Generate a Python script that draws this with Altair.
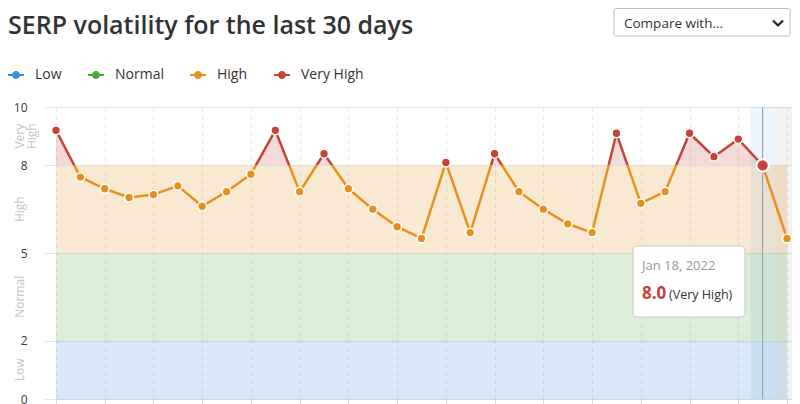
import altair as alt
import pandas as pd

# ---------------- data ----------------
values = [9.2, 7.6, 7.2, 6.9, 7.0, 7.3, 6.6, 7.1, 7.7, 9.2, 7.1, 8.4, 7.2, 6.5, 5.9, 5.5,
          8.1, 5.7, 8.4, 7.1, 6.5, 6.0, 5.7, 9.1, 6.7, 7.1, 9.1, 8.3, 8.9, 8.0, 5.5]
start_date = "2021-12-20"
levels = ["Low", "Normal", "High", "Very High"]
level_lo = [0, 2, 5, 8]
level_hi = [2, 5, 8, 10]
level_colors = ["#3b8ed0", "#4ea93d", "#e6911f", "#c4423a"]
band_labels = ["Low", "Normal", "High", "Very\nHigh"]
y_ticks = [0, 2, 5, 8, 10]
hover_index = 29
title_text = "SERP volatility for the last 30 days"
compare_text = "Compare with…"

FONT = "Open Sans"
W, H = 736, 292
STEP = 24.367
X_MAX = W / STEP

n = len(values)
dates = pd.date_range(start_date, periods=n).strftime("%b %d, %Y")


def level_of(v):
    for name, lo in zip(levels[::-1], level_lo[::-1]):
        if v >= lo:
            return name
    return levels[0]


df = pd.DataFrame({
    "idx": list(range(n)),
    "value": values,
    "date": list(dates),
    "level": [level_of(v) for v in values],
})

bands = pd.DataFrame({
    "level": levels[:3],
    "lo": level_lo[:3],
    "hi": level_hi[:3],
    "x0": [0] * 3,
    "x1": [n - 1] * 3,
})
band_text = pd.DataFrame({
    "label": band_labels,
    "mid": [(a + b) / 2 for a, b in zip(level_lo, level_hi)],
})

hv = df[df.idx == hover_index].copy()
hv["x0"] = hv["idx"] - 0.5
hv["x1"] = hv["idx"] + 0.5
hv["xend"] = X_MAX
hv["vtxt"] = hv["value"].map(lambda v: f"{v:.1f}")
hv["ltxt"] = hv["level"].map(lambda s: f"({s})")

vmax, vmin = max(values), min(values)
thr = level_lo[3]
p = (vmax - thr) / (vmax - vmin)

xscale = alt.Scale(domain=[0, X_MAX], nice=False, zero=False)
yscale = alt.Scale(domain=[0, 10], nice=False, zero=False)
cscale = alt.Scale(domain=levels, range=level_colors)

x_axis = alt.Axis(values=list(range(0, n, 2)), labels=False, tickSize=5, tickColor="#cbd7e4",
                  domainColor="#cbd7e4", grid=True, gridDash=[4, 4], gridColor="#e4e4e4",
                  title="")
y_axis = alt.Axis(values=y_ticks, tickSize=12, tickColor="#e6e6e6", domain=False, grid=True,
                  gridColor="#e6e6e6", labelFontSize=12, labelColor="#3a3a3a", labelFont=FONT,
                  labelPadding=17, title="")
sym = "M-1,-0.14H1V0.14H-1Z M-0.5,0A0.5,0.5 0 1,1 0.5,0A0.5,0.5 0 1,1 -0.5,0Z"
legend = alt.Legend(
    orient="none", legendX=-48, legendY=-40, direction="horizontal",
    symbolType=sym, symbolSize=256, symbolStrokeWidth=0, symbolOpacity=1,
    labelFont=FONT, labelFontSize=14, labelColor="#333", labelOffset=11,
    columnPadding=26, padding=0, title="")


def X(field):
    return alt.X(field, scale=xscale, axis=x_axis)


def Y(field=None, datum=None):
    if datum is not None:
        return alt.Y(datum=datum, scale=yscale, axis=y_axis)
    return alt.Y(field, scale=yscale, axis=y_axis)


def C():
    return alt.Color("level:N", scale=cscale, legend=legend, title="")


one = pd.DataFrame({"a": [0]})

# bands
band_layer = alt.Chart(bands).mark_rect(opacity=0.2).encode(
    x=X("x0:Q"), x2="x1:Q", y=Y("lo:Q"), y2="hi:Q", color=C(),
)

pink = alt.Gradient(gradient="linear", x1=0, x2=0, y1=0, y2=1, stops=[
    alt.GradientStop(color="rgba(196,66,58,0.2)", offset=0),
    alt.GradientStop(color="rgba(196,66,58,0.2)", offset=p),
    alt.GradientStop(color="rgba(255,255,255,0)", offset=p),
    alt.GradientStop(color="rgba(255,255,255,0)", offset=1),
])
area_layer = alt.Chart(df).mark_area(fill=pink).encode(
    x=X("idx:Q"), y=Y("value:Q"), y2=alt.datum(thr),
)

hover_band = alt.Chart(hv).mark_rect(color="#3b8ed0", opacity=0.09).encode(
    x=X("x0:Q"), x2="x1:Q", y=Y(datum=0), y2=alt.datum(10),
)

gray_band = alt.Chart(hv).mark_rect(color="#000000", opacity=0.05).encode(
    x=X("x1:Q"), x2="xend:Q", y=Y(datum=0), y2=alt.datum(10),
)

cross = alt.Chart(hv).mark_rule(color="#8c9ba8", strokeWidth=1).encode(
    x=X("idx:Q"), y=Y(datum=0), y2=alt.datum(10),
)

line_grad = alt.Gradient(gradient="linear", x1=0, x2=0, y1=0, y2=1, stops=[
    alt.GradientStop(color=level_colors[3], offset=0),
    alt.GradientStop(color=level_colors[3], offset=p),
    alt.GradientStop(color=level_colors[2], offset=p),
    alt.GradientStop(color=level_colors[2], offset=1),
])
line_layer = alt.Chart(df).mark_line(stroke=line_grad, strokeWidth=2.5).encode(
    x=X("idx:Q"), y=Y("value:Q"),
)

points = alt.Chart(df).mark_circle(size=78, opacity=1, stroke="white", strokeWidth=1.5).encode(
    x=X("idx:Q"), y=Y("value:Q"), color=C(),
)

hover_point = alt.Chart(hv).mark_circle(size=150, opacity=1, stroke="white", strokeWidth=2).encode(
    x=X("idx:Q"), y=Y("value:Q"), color=C(),
)

band_label_layer = alt.Chart(band_text).mark_text(
    angle=270, font=FONT, fontSize=12, color="#c4c4c4", lineBreak="\n", align="center",
    baseline="middle", lineHeight=12).encode(
    x=alt.value(-36.5), y=Y("mid:Q"), text="label:N",
)

# tooltip
tip_box = alt.Chart(one).mark_rect(fill="white", stroke="#c9c9c9", strokeWidth=1, cornerRadius=4).encode(
    x=alt.value(577), x2=alt.value(689), y=alt.value(139), y2=alt.value(210))
tip_date = alt.Chart(hv).mark_text(font=FONT, fontSize=13, color="#9a9a9a", align="left",
                                   baseline="alphabetic").encode(
    x=alt.value(586), y=alt.value(163), text="date:N")
tip_val = alt.Chart(hv).mark_text(font=FONT, fontSize=17, fontWeight="bold", color=level_colors[3],
                                  align="left", baseline="alphabetic").encode(
    x=alt.value(586), y=alt.value(192), text="vtxt:N")
tip_lvl = alt.Chart(hv).mark_text(font=FONT, fontSize=12.5, color="#333", align="left",
                                  baseline="alphabetic").encode(
    x=alt.value(613), y=alt.value(192), text="ltxt:N")

# title & dropdown
title_layer = alt.Chart(one).mark_text(text=title_text, font=FONT, fontSize=25, fontWeight=600,
                                       color="#333", align="left", baseline="alphabetic").encode(
    x=alt.value(-48), y=alt.value(-73))
dd_box = alt.Chart(one).mark_rect(fill="white", stroke="#bdbdbd", strokeWidth=1, cornerRadius=2).encode(
    x=alt.value(558), x2=alt.value(734), y=alt.value(-98.5), y2=alt.value(-71))
dd_text = alt.Chart(one).mark_text(text=compare_text, font=FONT, fontSize=13.5, color="#333",
                                   align="left", baseline="alphabetic").encode(
    x=alt.value(568), y=alt.value(-79))
dd_chev = alt.Chart(one).mark_point(shape="M-1,-0.5L0,0.5L1,-0.5", size=100, filled=False,
                                    stroke="#222", strokeWidth=2.2, opacity=1).encode(
    x=alt.value(722), y=alt.value(-84))

chart = alt.layer(
    band_layer, area_layer, hover_band, gray_band, cross, line_layer, points, hover_point,
    band_label_layer, tip_box, tip_date, tip_val, tip_lvl, title_layer, dd_box, dd_text, dd_chev,
).properties(
    width=W, height=H,
    padding={"left": 48, "top": 99, "right": 0, "bottom": 10},
    autosize=alt.AutoSizeParams(type="none"),
).configure_view(strokeWidth=0)

chart.save("out.html", embed_options={"renderer": "svg", "actions": False})
